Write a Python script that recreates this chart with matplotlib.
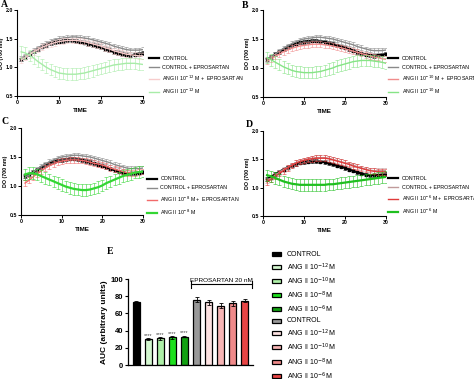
import numpy as np
import matplotlib
matplotlib.use('Agg')
import matplotlib.pyplot as plt

plt.rcParams['font.family'] = ['Liberation Sans', 'DejaVu Sans']

time = list(range(1, 31))

# panel A
a_ctrl = [1.14,1.18,1.23,1.28,1.32,1.36,1.39,1.42,1.44,1.45,1.46,1.47,1.47,1.46,1.45,1.43,1.41,1.39,1.37,1.35,1.32,1.30,1.27,1.25,1.23,1.22,1.21,1.22,1.23,1.25]
a_ctrl_ep = [1.15,1.19,1.24,1.29,1.34,1.38,1.42,1.45,1.48,1.50,1.51,1.52,1.53,1.53,1.52,1.51,1.50,1.48,1.46,1.44,1.42,1.40,1.37,1.35,1.33,1.31,1.30,1.30,1.30,1.31]
a_ang_ep = [1.13,1.17,1.22,1.27,1.31,1.35,1.38,1.41,1.43,1.45,1.46,1.47,1.47,1.47,1.46,1.45,1.43,1.41,1.39,1.37,1.34,1.32,1.29,1.27,1.25,1.23,1.22,1.21,1.20,1.20]
a_ang = [1.27,1.25,1.21,1.16,1.10,1.05,1.00,0.96,0.93,0.90,0.89,0.88,0.88,0.88,0.89,0.90,0.92,0.94,0.96,0.98,1.00,1.02,1.04,1.05,1.06,1.07,1.07,1.07,1.06,1.05]

# panel B
b_ctrl = [1.15,1.19,1.24,1.28,1.32,1.36,1.39,1.42,1.44,1.45,1.46,1.47,1.47,1.46,1.45,1.43,1.41,1.39,1.37,1.35,1.32,1.30,1.27,1.25,1.23,1.22,1.21,1.22,1.23,1.25]
b_ctrl_ep = [1.15,1.19,1.24,1.29,1.34,1.38,1.42,1.45,1.48,1.50,1.51,1.52,1.53,1.53,1.52,1.51,1.50,1.48,1.46,1.44,1.42,1.40,1.37,1.35,1.33,1.31,1.30,1.30,1.30,1.31]
b_ang_ep = [1.12,1.16,1.20,1.24,1.28,1.31,1.34,1.36,1.38,1.39,1.40,1.41,1.41,1.41,1.40,1.39,1.38,1.36,1.35,1.33,1.31,1.29,1.27,1.25,1.23,1.21,1.19,1.18,1.16,1.15]
b_ang = [1.18,1.14,1.10,1.06,1.02,0.99,0.96,0.94,0.93,0.92,0.92,0.92,0.93,0.94,0.96,0.98,1.00,1.03,1.05,1.07,1.09,1.11,1.12,1.13,1.13,1.13,1.12,1.11,1.10,1.08]

# panel C
c_ctrl = [1.17,1.20,1.24,1.28,1.32,1.36,1.39,1.42,1.44,1.45,1.46,1.47,1.47,1.46,1.45,1.43,1.41,1.39,1.37,1.35,1.32,1.30,1.27,1.25,1.23,1.22,1.22,1.22,1.23,1.24]
c_ctrl_ep = [1.15,1.19,1.24,1.29,1.34,1.38,1.42,1.45,1.48,1.50,1.51,1.52,1.53,1.53,1.52,1.51,1.50,1.48,1.46,1.44,1.42,1.40,1.37,1.35,1.33,1.31,1.30,1.30,1.30,1.31]
c_ang_ep = [1.05,1.10,1.16,1.21,1.26,1.31,1.35,1.38,1.41,1.43,1.44,1.45,1.45,1.45,1.44,1.43,1.41,1.39,1.38,1.36,1.34,1.31,1.29,1.27,1.25,1.23,1.23,1.23,1.24,1.25]
c_ang = [1.20,1.22,1.22,1.20,1.17,1.14,1.11,1.08,1.05,1.02,0.99,0.97,0.95,0.94,0.93,0.93,0.94,0.96,0.98,1.01,1.05,1.08,1.11,1.14,1.17,1.19,1.21,1.23,1.24,1.25]

# panel D
d_ctrl = [1.15,1.19,1.24,1.28,1.32,1.36,1.39,1.42,1.44,1.45,1.46,1.47,1.47,1.46,1.45,1.43,1.41,1.39,1.37,1.35,1.32,1.30,1.27,1.25,1.23,1.22,1.22,1.22,1.23,1.24]
d_ctrl_ep = [1.13,1.17,1.22,1.27,1.32,1.36,1.40,1.44,1.47,1.49,1.51,1.52,1.53,1.53,1.53,1.52,1.50,1.48,1.46,1.44,1.42,1.40,1.37,1.35,1.33,1.31,1.30,1.30,1.30,1.30]
d_ang_ep = [1.10,1.15,1.20,1.25,1.30,1.35,1.39,1.43,1.46,1.48,1.50,1.51,1.52,1.52,1.52,1.51,1.49,1.47,1.45,1.43,1.41,1.38,1.36,1.34,1.32,1.30,1.29,1.28,1.28,1.28]
d_ang = [1.22,1.20,1.17,1.14,1.11,1.09,1.07,1.06,1.05,1.05,1.05,1.05,1.05,1.05,1.05,1.06,1.06,1.07,1.08,1.09,1.10,1.11,1.12,1.13,1.14,1.15,1.16,1.17,1.18,1.19]

# error bar sizes (ctrl, ctrl+ep, ang+ep, ang)
errs = [0.03, 0.04, 0.05, 0.10]

conc = ['-12', '-10', '-8', '-6']

# AUC bars (panel E)
auc_labels = ['CONTROL', 'ANG II 10$^{-12}$M', 'ANG II 10$^{-10}$M', 'ANG II 10$^{-8}$M', 'ANG II 10$^{-6}$M',
              'CONTROL', 'ANG II 10$^{-12}$M', 'ANG II 10$^{-10}$M', 'ANG II 10$^{-8}$M', 'ANG II 10$^{-6}$M']
auc_vals = [73, 30, 31, 32, 33, 76, 73, 69, 72, 75]
auc_err = [2, 1, 1.5, 1.5, 1, 2.5, 3, 3, 3, 2]
auc_colors = ['#000000', '#d4f7d0', '#aef0a8', '#1ee01e', '#12a012',
              '#999999', '#fde2e2', '#f6b4b4', '#f08a8a', '#e84545']

W, H = 474, 379
fig = plt.figure(figsize=(W / 100, H / 100), dpi=100)

def px_axes(x0, x1, ytop, ybot):
    return fig.add_axes([x0 / W, 1 - ybot / H, (x1 - x0) / W, (ybot - ytop) / H])

# label, axes box (px), panel letter pos, series, colours, legend anchor (axes coords)
panels = [
    ('A', (17, 143, 10, 96), (1, 0), [a_ctrl, a_ctrl_ep, a_ang_ep, a_ang],
     ['#000000', '#8a8a8a', '#f7cccc', '#a8eca8'], (0.05, 0.235)),
    ('B', (263, 386, 10, 97), (242, 1), [b_ctrl, b_ctrl_ep, b_ang_ep, b_ang],
     ['#000000', '#8a8a8a', '#f08c8c', '#86e486'], (0.02, 0.24)),
    ('C', (21, 143, 128, 215), (1, 117), [c_ctrl, c_ctrl_ep, c_ang_ep, c_ang],
     ['#000000', '#8a8a8a', '#f26a6a', '#33d633'], (0.035, 0.21)),
    ('D', (263, 386, 131, 216), (246, 120), [d_ctrl, d_ctrl_ep, d_ang_ep, d_ang],
     ['#000000', '#c09a9a', '#e03a3a', '#1fbf1f'], (0.02, 0.235)),
]

for i, (lab, box, lpos, series, cols, anchor) in enumerate(panels):
    ax = px_axes(*box)
    c = conc[i]
    names = ['CONTROL', 'CONTROL + EPROSARTAN',
             'ANG II 10$^{%s}$ M +  EPROSARTAN' % c, 'ANG II 10$^{%s}$ M' % c]
    lws = [1.6, 1.0, 1.0, 1.0 if i < 2 else 1.6]
    handles = []
    for j, (s, col) in enumerate(zip(series, cols)):
        ax.errorbar(time, s, yerr=errs[j], fmt='none', ecolor=col, elinewidth=0.5,
                    capsize=1.2, capthick=0.5, alpha=0.8)
        if j == 0:
            ax.plot(time, s, 's', color=col, ms=1.5)
        h, = ax.plot(time, s, '-', color=col, lw=lws[j])
        handles.append(h)
    ax.set_xlim(0, 30)
    ax.set_ylim(0.5, 2.0)
    ax.set_xticks([0, 10, 20, 30])
    ax.set_yticks([0.5, 1.0, 1.5, 2.0])
    ax.spines['top'].set_visible(False)
    ax.spines['right'].set_visible(False)
    for sp in ['left', 'bottom']:
        ax.spines[sp].set_linewidth(0.8)
    ax.tick_params(labelsize=3.8, length=2, width=0.7, pad=1)
    for t in ax.get_xticklabels() + ax.get_yticklabels():
        t.set_fontweight('bold')
    ax.set_xlabel('TIME', fontsize=4.5, fontweight='bold', labelpad=2)
    ax.set_ylabel('DO (700 nm)', fontsize=3.8, fontweight='bold', labelpad=1)
    ax.legend(handles, names, loc='center left', bbox_to_anchor=(1 + anchor[0], anchor[1]),
              frameon=False, fontsize=3.8, handlelength=1.9, handletextpad=0.6,
              labelspacing=0.75, borderpad=0, borderaxespad=0)
    fig.text(lpos[0] / W, 1 - lpos[1] / H, lab, fontsize=7, fontweight='bold',
             family='Liberation Serif', va='top', ha='left')

# panel E
ax = px_axes(128, 253, 279, 365)
xs = np.arange(len(auc_vals))
ax.bar(xs, auc_vals, width=0.62, color=auc_colors, edgecolor='black', linewidth=0.9,
       yerr=auc_err, error_kw=dict(elinewidth=0.6, capsize=1.5, capthick=0.6))
for k in range(1, 5):
    ax.text(xs[k], auc_vals[k] + auc_err[k] + 0.5, '****', ha='center', va='bottom',
            fontsize=4, color='#444444')
ax.set_xlim(-0.7, 9.7)
ax.set_ylim(0, 100)
ax.set_yticks([0, 20, 40, 60, 80, 100])
ax.set_xticks([])
ax.spines['top'].set_visible(False)
ax.spines['right'].set_visible(False)
ax.spines['left'].set_linewidth(0.9)
ax.spines['bottom'].set_linewidth(0.9)
ax.tick_params(labelsize=5.5, length=2.5, width=0.8, pad=1)
for t in ax.get_yticklabels():
    t.set_fontweight('bold')
ax.set_ylabel('AUC (arbitrary units)', fontsize=6, fontweight='bold', labelpad=2)
ax.plot([4.55, 9.6], [94, 94], color='black', lw=0.8, clip_on=False)
ax.plot([4.55, 4.55], [90, 98], color='black', lw=0.8, clip_on=False)
ax.plot([9.6, 9.6], [90, 98], color='black', lw=0.8, clip_on=False)
ax.text(7.05, 95.5, 'EPROSARTAN 20 nM', ha='center', va='bottom', fontsize=4.6)
fig.text(107 / W, 1 - 252 / H, 'E', fontsize=7, fontweight='bold',
         family='Liberation Serif', va='center', ha='left')

# E legend
leg_y = [254, 267, 281, 295, 309, 321, 333, 347, 362, 376]
for k in range(len(auc_vals)):
    y = 1 - leg_y[k] / H
    fig.patches.append(matplotlib.patches.Rectangle(
        (272 / W, y - 2.0 / H), 9 / W, 4.0 / H, transform=fig.transFigure,
        facecolor=auc_colors[k], edgecolor='black', linewidth=0.9))
    fig.text(287 / W, y, auc_labels[k], fontsize=5, va='center', ha='left')

fig.savefig('out.png', dpi=100)
